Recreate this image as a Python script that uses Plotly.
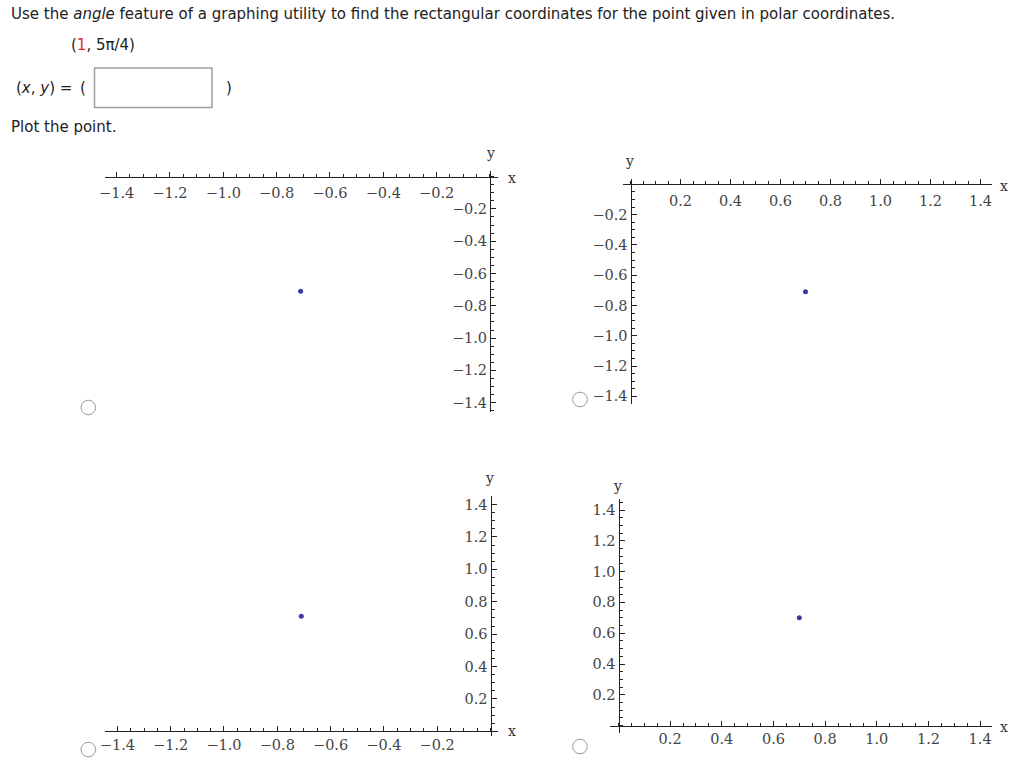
import plotly.graph_objects as go

# ---------------- data ----------------
panel_names = ["A", "B", "C", "D"]
point_x = [-0.71, 0.70, -0.71, 0.70]
point_y = [-0.71, -0.71, 0.71, 0.70]

x_ranges = [(-1.445, 0.03), (-0.03, 1.447), (-1.445, 0.03), (-0.033, 1.445)]
y_ranges = [(-1.458, 0.037), (-1.452, 0.037), (-0.03, 1.454), (-0.05, 1.469)]

neg_ticks = [-1.4, -1.2, -1.0, -0.8, -0.6, -0.4, -0.2]
pos_ticks = [0.2, 0.4, 0.6, 0.8, 1.0, 1.2, 1.4]
x_tick_vals = [neg_ticks, pos_ticks, neg_ticks, pos_ticks]
y_tick_vals = [neg_ticks, neg_ticks, pos_ticks, pos_ticks]

question = ("Use the <i>angle</i> feature of a graphing utility to find the rectangular "
            "coordinates for the point given in polar coordinates.")
polar_text = "(<span style='color:#e8262a'>1</span>, 5π/4)"
answer_text = "(<i>x</i>, <i>y</i>) ="
open_paren = "("
close_paren = ")"
plot_text = "Plot the point."

# ---------------- layout geometry (pixels in the page) ----------------
W, H = 1024, 759


def fx(px):
    return px / W


def fy(py):
    return 1 - py / H


# origin pixel position and pixel-per-unit scales for each panel
geom = [
    (490.0, 176.6, 266.7, 161.5),
    (630.5, 184.3, 250.0, 151.5),
    (490.5, 731.3, 266.5, 162.0),
    (618.5, 725.6, 258.3, 154.0),
]
x_label_standoff = [3, 3, 0, 0]
axis_title_pos = [
    ((490, 153), (512, 178)),
    ((629, 161), (1004, 186)),
    ((489, 478), (512, 731)),
    ((617, 486), (1004, 727)),
]
radio_pos = [(88.3, 407.5), (580, 399.5), (88.3, 749.5), (580, 746.5)]

tick_font = dict(family="DejaVu Serif", size=14.5, color="#444")
axis_color = "#222"

fig = go.Figure()
layout = dict(
    width=W, height=H,
    margin=dict(l=0, r=0, t=0, b=0),
    paper_bgcolor="white", plot_bgcolor="white",
    showlegend=False,
)
annotations = []
shapes = []

for i, name in enumerate(panel_names):
    ox, oy, sx, sy = geom[i]
    xr, yr = x_ranges[i], y_ranges[i]
    n = "" if i == 0 else str(i + 1)
    xa_key, ya_key = "xaxis" + n, "yaxis" + n
    fig.add_trace(go.Scatter(
        x=[point_x[i]], y=[point_y[i]], mode="markers",
        marker=dict(color="#3b3ba6", size=5),
        xaxis="x" + n, yaxis="y" + n, name=name, hoverinfo="skip",
    ))
    x_dom = [fx(ox + sx * xr[0]), fx(ox + sx * xr[1])]
    y_dom = [fy(oy - sy * yr[0]), fy(oy - sy * yr[1])]
    common = dict(
        anchor="free", showgrid=False, zeroline=False, showline=True,
        linecolor=axis_color, linewidth=1, tickmode="array", tickformat=".1f",
        ticks="inside", ticklen=5, tickcolor=axis_color, tickwidth=1,
        ticklabelposition="outside", tickfont=tick_font, fixedrange=True,
        automargin=False,
        minor=dict(dtick=0.05, tick0=0, ticks="inside", ticklen=3,
                   tickcolor=axis_color, showgrid=False),
    )
    layout[xa_key] = dict(domain=x_dom, range=list(xr), position=fy(oy), side="bottom",
                          tickvals=x_tick_vals[i], ticklabelstandoff=x_label_standoff[i],
                          **common)
    layout[ya_key] = dict(domain=y_dom, range=list(yr), position=fx(ox), side="left",
                          tickvals=y_tick_vals[i], **common)
    (ypx, ypy), (xpx, xpy) = axis_title_pos[i]
    annotations.append(dict(text="y", x=fx(ypx), y=fy(ypy), xref="paper", yref="paper",
                            showarrow=False, xanchor="center", yanchor="middle",
                            font=dict(family="DejaVu Serif", size=14, color="#333")))
    annotations.append(dict(text="x", x=fx(xpx), y=fy(xpy), xref="paper", yref="paper",
                            showarrow=False, xanchor="center", yanchor="middle",
                            font=dict(family="DejaVu Serif", size=14, color="#333")))
    cx, cy = radio_pos[i]
    r = 7.3
    shapes.append(dict(type="circle", xref="paper", yref="paper",
                       x0=fx(cx - r), x1=fx(cx + r), y0=fy(cy + r), y1=fy(cy - r),
                       line=dict(color="#9a9a9a", width=1), fillcolor="white"))

text_font = dict(family="DejaVu Sans", size=15, color="#222")
for txt, px, py in [(question, 9, 14), (polar_text, 69, 45), (answer_text, 14, 88),
                    (open_paren, 78, 88), (close_paren, 224, 88), (plot_text, 9, 127)]:
    annotations.append(dict(text=txt, x=fx(px), y=fy(py), xref="paper", yref="paper",
                            showarrow=False, xanchor="left", yanchor="middle", font=text_font))

shapes.append(dict(type="rect", xref="paper", yref="paper",
                   x0=fx(94.5), x1=fx(212), y0=fy(107.5), y1=fy(68),
                   line=dict(color="#a0a0a0", width=1.5), fillcolor="white"))

layout["annotations"] = annotations
layout["shapes"] = shapes
fig.update_layout(**layout)
fig.write_html("out.html", config={"displayModeBar": False},
               post_script="document.body.style.margin='0';document.body.style.overflow='hidden';")
